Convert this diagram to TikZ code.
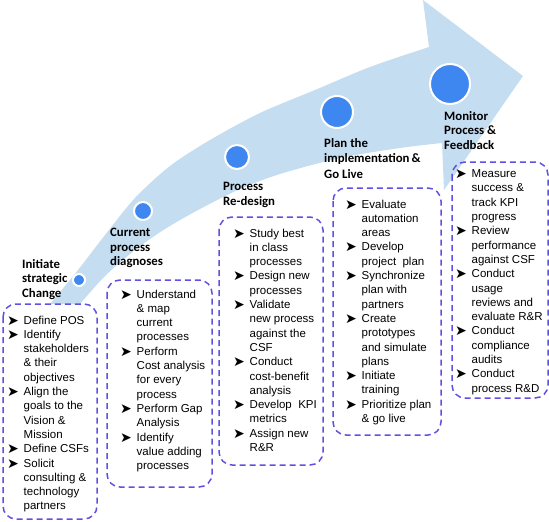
\documentclass[tikz,border=0pt]{standalone}
\usepackage{fontspec}
\setmainfont{Liberation Sans}
\newfontfamily\lblfont{Carlito}
\newfontfamily\symfont{DejaVu Sans}
\definecolor{bandfill}{RGB}{197,221,240}
\definecolor{dotblue}{RGB}{62,135,240}
\definecolor{boxline}{RGB}{95,80,225}
\newcommand\bitem{\makebox[16.5pt][l]{\raisebox{-1pt}{\symfont\fontsize{14}{14}\selectfont ➤}}}
\newcommand\bcont{\hspace*{16.5pt}}
\tikzset{
	stage/.style={font=\lblfont\bfseries\fontsize{12.8}{14.5}\selectfont, align=left, anchor=north west, inner sep=0pt},
	itemlist/.style={font=\fontsize{11.5}{14.3}\selectfont, align=left, anchor=north west, inner sep=0pt},
	stepbox/.style={draw=boxline, dash pattern=on 6pt off 4pt, line width=1.5pt, rounded corners=13pt},
	dot/.style={circle, fill=dotblue, draw=white, line width=2pt, inner sep=0pt}
}
\begin{document}
\begin{tikzpicture}[x=1pt,y=-1pt]
		\useasboundingbox (0,0) rectangle (549,522);
		% curved arrow
		\fill[bandfill] plot[smooth] coordinates {(50,304) (78,270) (105,235) (135,198) (170,166) (210,140) (260,113) (315,90) (370,67) (429,47)}
			-- (423,0) -- (523,76) -- (444,190)
			-- plot[smooth] coordinates {(442,143) (400,148) (340,158) (280,174) (240,189) (200,209) (165,229) (135,250) (105,276) (80,304)} -- cycle;
		% stages
		\node[dot, minimum size=12pt] (d1) at (79,280) {};
		\node[dot, minimum size=18pt] (d2) at (143,211) {};
		\node[dot, minimum size=24pt] (d3) at (237,157) {};
		\node[dot, minimum size=32pt] (d4) at (337,112) {};
		\node[dot, minimum size=40pt] (d5) at (450,84) {};
		\node[stage] (s1) at (22,259) {Initiate\\strategic\\Change};
		\node[stage] (s2) at (110,228) {Current\\process\\diagnoses};
		\node[stage] (s3) at (223,182) {Process\\Re-design};
		\node[stage, font=\lblfont\bfseries\fontsize{12.8}{15.5}\selectfont] (s4) at (324,138) {Plan the\\implementation\,\&\\Go Live};
		\node[stage] (s5) at (444,111) {Monitor\\Process \&\\Feedback};
		% boxes
		\draw[stepbox] (3,304) rectangle (97,519);
		\draw[stepbox] (107,280) rectangle (212,487);
		\draw[stepbox] (219,217) rectangle (323,465);
		\draw[stepbox] (333,188) rectangle (441,435);
		\draw[stepbox] (452,162) rectangle (548,398);
		\node[itemlist] (l1) at (7,315.5) {\bitem Define POS\\\bitem Identify\\\bcont stakeholders\\\bcont \& their\\\bcont objectives\\\bitem Align the\\\bcont goals to the\\\bcont Vision \&\\\bcont Mission\\\bitem Define CSFs\\\bitem Solicit\\\bcont consulting \&\\\bcont technology\\\bcont partners};
		\node[itemlist] (l2) at (120,289.5) {\bitem Understand\\\bcont \& map\\\bcont current\\\bcont processes\\\bitem Perform\\\bcont Cost analysis\\\bcont for every\\\bcont process\\\bitem Perform Gap\\\bcont Analysis\\\bitem Identify\\\bcont value adding\\\bcont processes};
		\node[itemlist] (l3) at (233,228.5) {\bitem Study best\\\bcont in class\\\bcont processes\\\bitem Design new\\\bcont processes\\\bitem Validate\\\bcont new process\\\bcont against the\\\bcont CSF\\\bitem Conduct\\\bcont cost-benefit\\\bcont analysis\\\bitem Develop\ \ KPI\\\bcont metrics\\\bitem Assign new\\\bcont R\&R};
		\node[itemlist] (l4) at (345,199.5) {\bitem Evaluate\\\bcont automation\\\bcont areas\\\bitem Develop\\\bcont project\ \ plan\\\bitem Synchronize\\\bcont plan with\\\bcont partners\\\bitem Create\\\bcont prototypes\\\bcont and simulate\\\bcont plans\\\bitem Initiate\\\bcont training\\\bitem Prioritize plan\\\bcont \& go live};
		\node[itemlist] (l5) at (455,169.5) {\bitem Measure\\\bcont success \&\\\bcont track KPI\\\bcont progress\\\bitem Review\\\bcont performance\\\bcont against CSF\\\bitem Conduct\\\bcont usage\\\bcont reviews and\\\bcont evaluate R\&R\\\bitem Conduct\\\bcont compliance\\\bcont audits\\\bitem Conduct\\\bcont process R\&D};
	\end{tikzpicture}
\end{document}
